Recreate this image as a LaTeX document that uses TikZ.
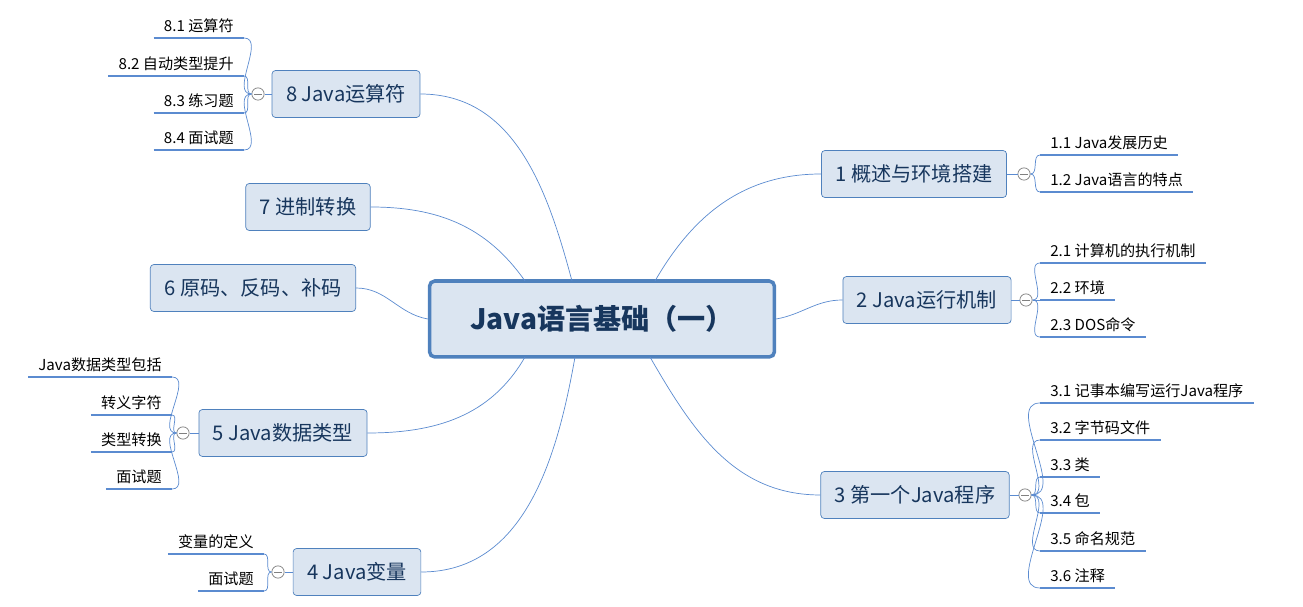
\documentclass[tikz,border=0pt]{standalone}
\usepackage{fontspec}
\setmainfont{Noto Sans CJK SC}
\definecolor{boxfill}{HTML}{DBE5F1}
\definecolor{boxline}{HTML}{4F81BD}
\definecolor{linkline}{HTML}{5B8BD0}
\definecolor{darktext}{HTML}{17365D}
\begin{document}
\begin{tikzpicture}[x=0.02cm, y=-0.02cm,
  every node/.style={align=center},
  central/.style={rectangle, draw=boxline, line width=2pt, fill=boxfill, rounded corners=3pt, minimum width=6.9cm, minimum height=1.52cm, font=\fontsize{16}{18}\selectfont\bfseries, text=darktext},
  branch/.style={rectangle, draw=boxline, fill=boxfill, rounded corners=2pt, minimum height=0.94cm, inner xsep=0.28cm, font=\fontsize{11.5}{13}\selectfont, text=darktext},
  leaf/.style={inner xsep=0.2cm, inner ysep=3pt, font=\fontsize{8.6}{10}\selectfont},
  link/.style={draw=linkline, thin},
  fold/.style={circle, draw=gray, fill=white, inner sep=0pt, minimum size=7pt, path picture={\draw[gray] ([xshift=-2pt]path picture bounding box.center) -- ([xshift=2pt]path picture bounding box.center);}}
]
\useasboundingbox (0,0) rectangle (1303,607);

% Central topic
\node[central] (c) at (602,319) {Java语言基础（一）};

% Branches
\node[branch] (b1) at (914,174) {1 概述与环境搭建};
\node[branch] (b2) at (927,300) {2 Java运行机制};
\node[branch] (b3) at (915,495) {3 第一个Java程序};
\node[branch] (b4) at (357,572) {4 Java变量};
\node[branch] (b5) at (283,433) {5 Java数据类型};
\node[branch] (b6) at (253,288) {6 原码、反码、补码};
\node[branch] (b7) at (308,207) {7 进制转换};
\node[branch] (b8) at (346,94) {8 Java运算符};

% Links from the centre
\draw[link] (655,281) to[out=60,in=180] (b1.west);
\draw[link] (c.east) to[out=10,in=180] (b2.west);
\draw[link] (650,357) to[out=-60,in=180] (b3.west);
\draw[link] (575,357) to[out=-100,in=0] (b4.east);
\draw[link] (525,357) to[out=-120,in=0] (b5.east);
\draw[link] (c.west) to[out=170,in=0] (b6.east);
\draw[link] (525,281) to[out=125,in=0] (b7.east);
\draw[link] (572,281) to[out=105,in=0] (b8.east);

% Leaves, right side
\foreach \name/\y/\txt in {l11/155/1.1 Java发展历史, l12/192/1.2 Java语言的特点,
    l21/263/2.1 计算机的执行机制, l22/300/2.2 环境, l23/337/2.3 DOS命令,
    l31/403/3.1 记事本编写运行Java程序, l32/440/3.2 字节码文件, l33/477/3.3 类,
    l34/513/3.4 包, l35/551/3.5 命名规范, l36/588/3.6 注释}
  \node[leaf, anchor=south west] (\name) at (1040,\y) {\txt};

% Leaves, left side
\foreach \name/\y/\txt in {l81/38/8.1 运算符, l82/76/8.2 自动类型提升, l83/113/8.3 练习题, l84/150/8.4 面试题,
    l51/377/Java数据类型包括, l52/415/转义字符, l53/452/类型转换, l54/489/面试题}
  \node[leaf, anchor=south east] (\name) at (\ifnum\y<300 244\else 172\fi,\y) {\txt};
\node[leaf, anchor=south east] (l41) at (264,554) {变量的定义};
\node[leaf, anchor=south east] (l42) at (264,591) {面试题};

% Underlines
\foreach \name in {l11,l12,l21,l22,l23,l31,l32,l33,l34,l35,l36,l81,l82,l83,l84,l51,l52,l53,l54,l41,l42}
  \draw[linkline, line width=1.2pt] (\name.south west) -- (\name.south east);

% Fold markers and brackets
\node[fold] (f1) at (1024,174) {};
\node[fold] (f2) at (1026,300) {};
\node[fold] (f3) at (1025,495) {};
\node[fold] (f8) at (258,94) {};
\node[fold] (f5) at (183,433) {};
\node[fold] (f4) at (278,572) {};
\draw[link] (b1.east) -- (f1.west);
\draw[link] (b2.east) -- (f2.west);
\draw[link] (b3.east) -- (f3.west);
\draw[link] (b8.west) -- (f8.east);
\draw[link] (b5.west) -- (f5.east);
\draw[link] (b4.west) -- (f4.east);
\foreach \f/\l in {f1/l11,f1/l12,f2/l21,f2/l22,f2/l23,f3/l31,f3/l32,f3/l33,f3/l34,f3/l35,f3/l36}
  \draw[link] (\f.east) to[out=0,in=180] (\l.south west);
\foreach \f/\l in {f8/l81,f8/l82,f8/l83,f8/l84,f5/l51,f5/l52,f5/l53,f5/l54,f4/l41,f4/l42}
  \draw[link] (\f.west) to[out=180,in=0] (\l.south east);

\end{tikzpicture}
\end{document}
